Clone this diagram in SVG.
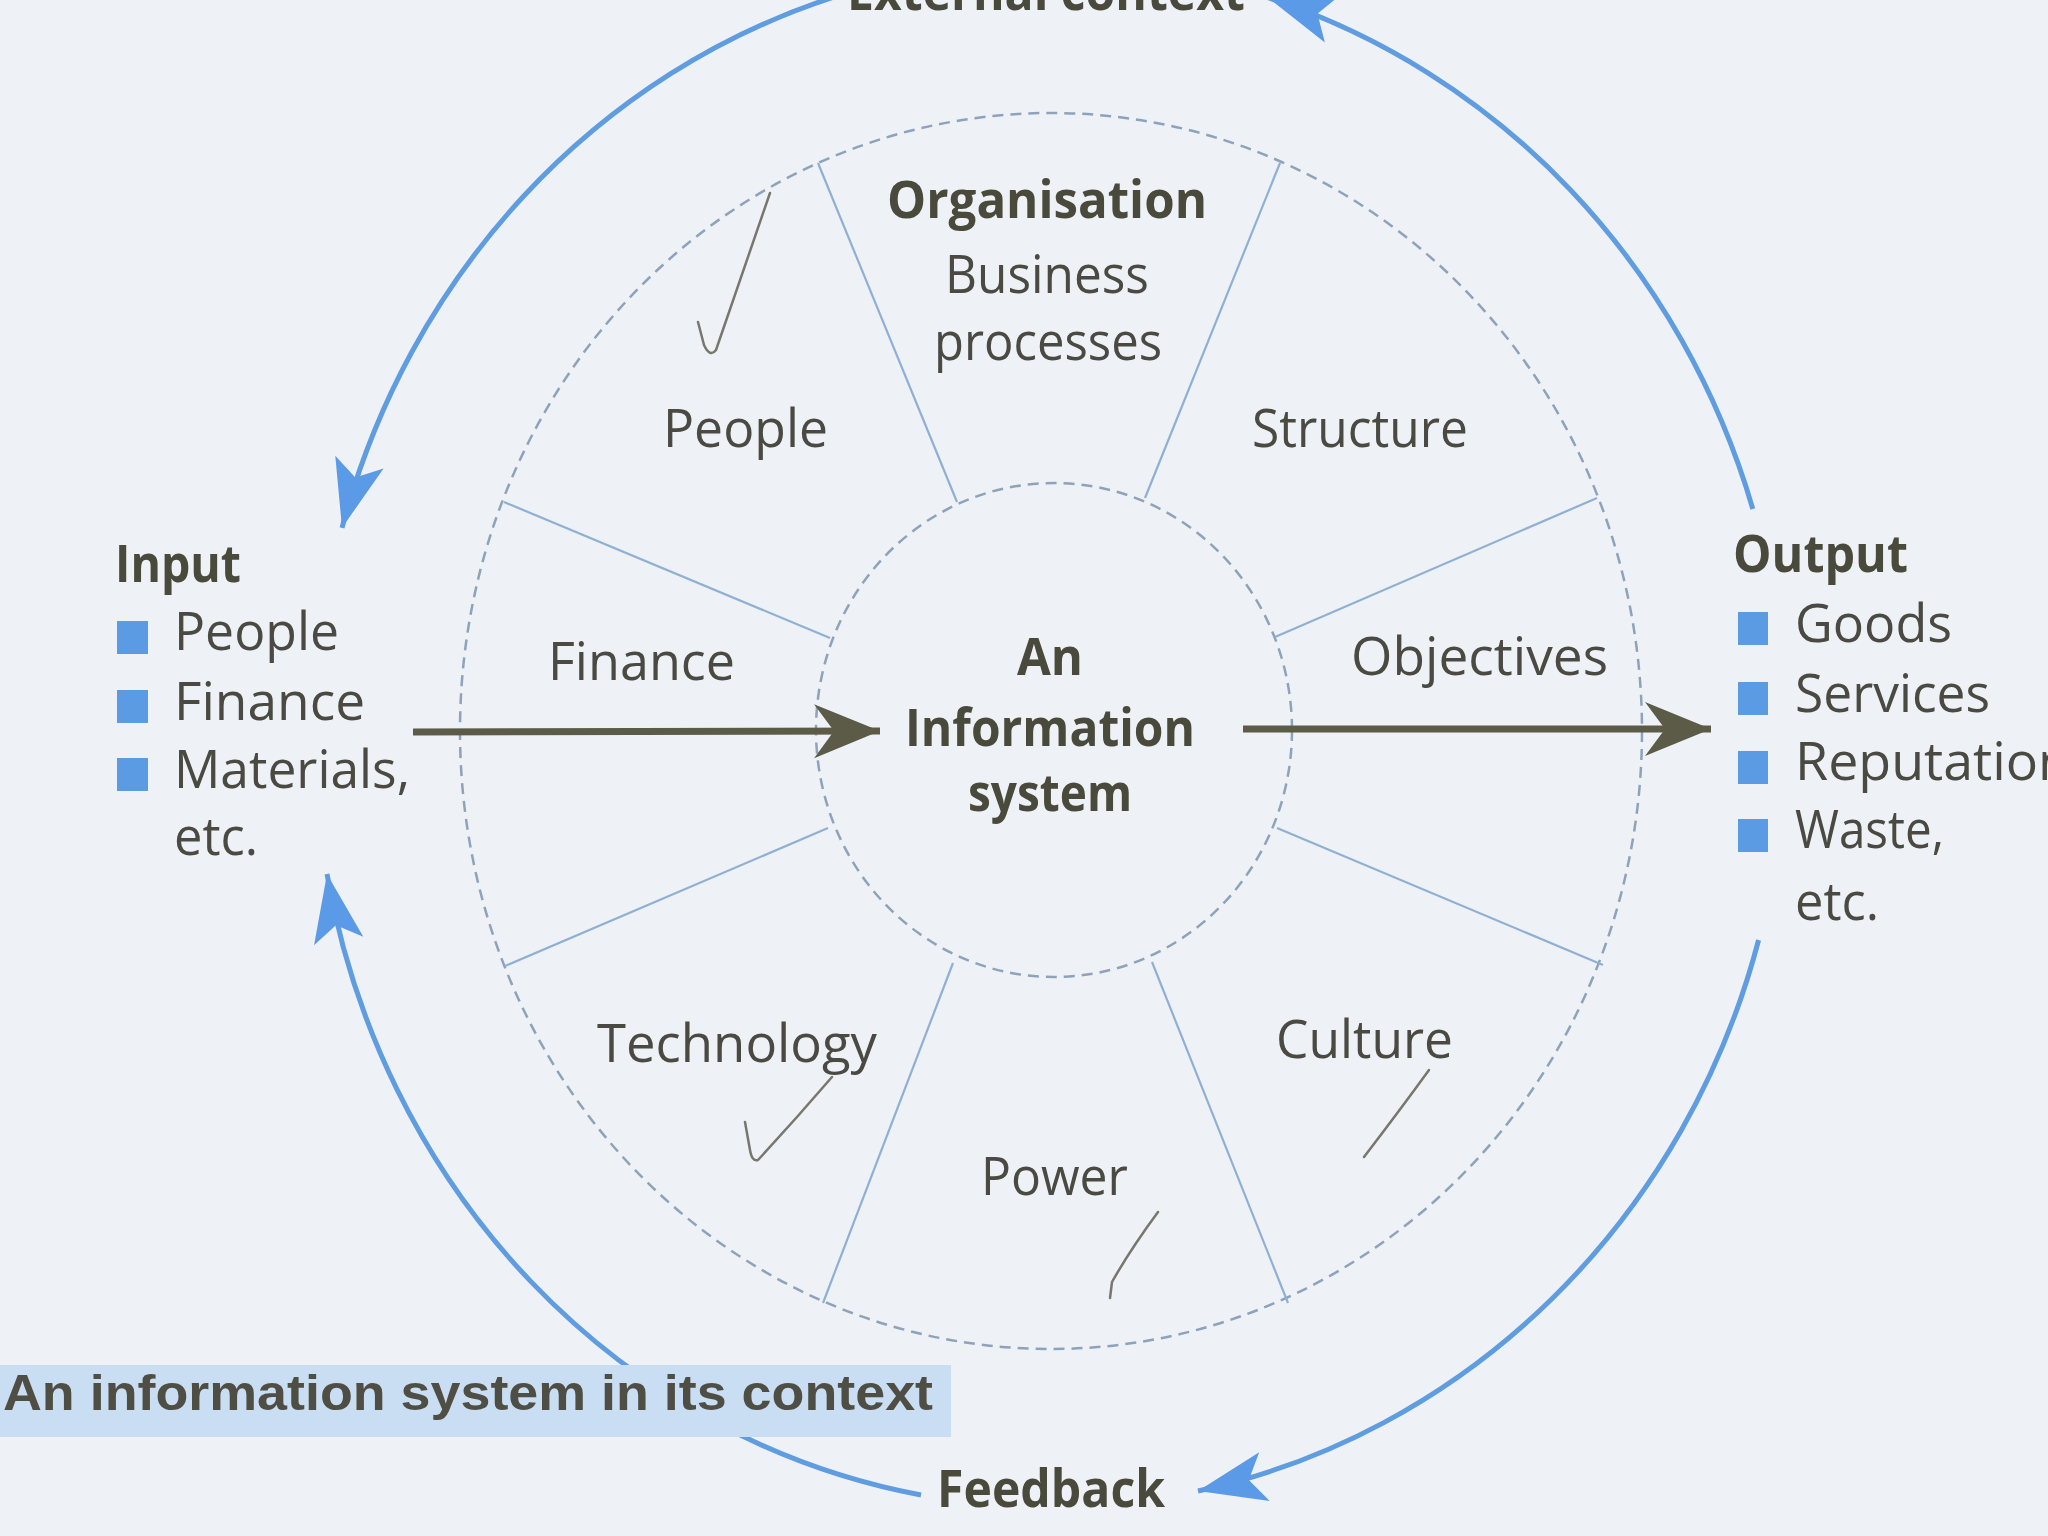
<svg xmlns="http://www.w3.org/2000/svg" width="2048" height="1536" viewBox="0 0 2048 1536">
  <style>
    .reg { font-family: "Open Sans", "Liberation Sans", sans-serif; font-size: 53px; fill: #4a4a42; }
    .bold { font-family: "Open Sans", "Liberation Sans", sans-serif; font-weight: bold; font-size: 52px; fill: #4a4a3c; }
    .cap { font-family: "Liberation Sans", Arial, sans-serif; font-weight: bold; font-size: 50px; fill: #4e4e44; }
    .dash { fill: none; stroke: #8ea2ba; stroke-width: 2.5; stroke-dasharray: 11 7; }
    .spoke { stroke: #8fb0d2; stroke-width: 2.2; fill: none; }
    .loop { fill: none; stroke: #5f9ce0; stroke-width: 5; }
    .flow { stroke: #5c5b47; stroke-width: 7; fill: none; }
    .bullet { fill: #5b9be3; }
    .tick { fill: none; stroke: #77776e; stroke-width: 2.5; stroke-linecap: round; stroke-linejoin: round; }
  </style>
  <defs>
    <marker id="blueHead" viewBox="0 0 70 56" refX="68" refY="28" markerWidth="70" markerHeight="56" markerUnits="userSpaceOnUse" orient="auto">
      <path d="M68,28 L0,3 L16,28 L0,53 Z" fill="#5a9ae6"/>
    </marker>
    <marker id="oliveHead" viewBox="0 0 68 56" refX="66" refY="28" markerWidth="68" markerHeight="56" markerUnits="userSpaceOnUse" orient="auto">
      <path d="M66,28 L0,1 L20,28 L0,55 Z" fill="#5c5b47"/>
    </marker>
  </defs>

  <rect x="0" y="0" width="2048" height="1536" fill="#eef2f7"/>

  <!-- dashed rings and spokes -->
  <g id="rings">
    <ellipse class="dash" cx="1051" cy="731" rx="591" ry="618"/>
    <ellipse class="dash" cx="1054" cy="730" rx="238" ry="247"/>
  </g>
  <g id="spokes">
    <line class="spoke" x1="818" y1="163" x2="957" y2="502"/>
    <line class="spoke" x1="1280" y1="163" x2="1145" y2="498"/>
    <line class="spoke" x1="504" y1="502" x2="830" y2="638"/>
    <line class="spoke" x1="505" y1="966" x2="828" y2="828"/>
    <line class="spoke" x1="1597" y1="498" x2="1275" y2="637"/>
    <line class="spoke" x1="1603" y1="965" x2="1277" y2="828"/>
    <line class="spoke" x1="953" y1="963" x2="823" y2="1303"/>
    <line class="spoke" x1="1152" y1="962" x2="1288" y2="1303"/>
  </g>

  <!-- connectors -->
  <g id="connectors">
    <path class="loop" d="M 835 -3.3 A 735 772 0 0 0 342 527.8" marker-end="url(#blueHead)"/>
    <path class="loop" d="M 1752.8 509 A 735 772 0 0 0 1268 -2.3" marker-end="url(#blueHead)"/>
    <path class="loop" d="M 1758.6 940 A 735 772 0 0 1 1198 1491" marker-end="url(#blueHead)"/>
    <path class="loop" d="M 921 1495 A 735 772 0 0 1 327 874" marker-end="url(#blueHead)"/>
    <line class="flow" x1="413" y1="732" x2="880" y2="731" marker-end="url(#oliveHead)"/>
    <line class="flow" x1="1243" y1="729" x2="1711" y2="729" marker-end="url(#oliveHead)"/>
  </g>

  <!-- caption box (covers part of the feedback loop) -->
  <g id="caption">
    <rect x="0" y="1365" width="951" height="72" fill="#c9ddf3"/>
    <text class="cap" x="3" y="1410" textLength="930" lengthAdjust="spacingAndGlyphs">An information system in its context</text>
  </g>

  <g id="external-context">
    <text class="bold" x="847" y="10" font-size="54" textLength="398" lengthAdjust="spacingAndGlyphs">External context</text>
  </g>
  <g id="feedback">
    <text class="bold" x="937" y="1507" font-size="54" textLength="228" lengthAdjust="spacingAndGlyphs">Feedback</text>
  </g>

  <g id="organisation">
    <text class="bold" x="887" y="218" textLength="320" lengthAdjust="spacingAndGlyphs">Organisation</text>
    <text class="reg" x="945" y="293" textLength="204" lengthAdjust="spacingAndGlyphs">Business</text>
    <text class="reg" x="934" y="360" textLength="228" lengthAdjust="spacingAndGlyphs">processes</text>
  </g>
  <g id="people">
    <text class="reg" x="663" y="447" textLength="165" lengthAdjust="spacingAndGlyphs">People</text>
  </g>
  <g id="structure">
    <text class="reg" x="1252" y="447" textLength="216" lengthAdjust="spacingAndGlyphs">Structure</text>
  </g>
  <g id="finance">
    <text class="reg" x="548" y="680" textLength="187" lengthAdjust="spacingAndGlyphs">Finance</text>
  </g>
  <g id="objectives">
    <text class="reg" x="1351" y="675" textLength="257" lengthAdjust="spacingAndGlyphs">Objectives</text>
  </g>
  <g id="information-system">
    <text class="bold" x="1017" y="675" textLength="66" lengthAdjust="spacingAndGlyphs">An</text>
    <text class="bold" x="905" y="746" textLength="290" lengthAdjust="spacingAndGlyphs">Information</text>
    <text class="bold" x="968" y="811" textLength="164" lengthAdjust="spacingAndGlyphs">system</text>
  </g>
  <g id="technology">
    <text class="reg" x="597" y="1062" textLength="280" lengthAdjust="spacingAndGlyphs">Technology</text>
  </g>
  <g id="culture">
    <text class="reg" x="1276" y="1058" textLength="177" lengthAdjust="spacingAndGlyphs">Culture</text>
  </g>
  <g id="power">
    <text class="reg" x="981" y="1195" textLength="147" lengthAdjust="spacingAndGlyphs">Power</text>
  </g>

  <g id="input">
    <text class="bold" x="115" y="582" font-size="50" textLength="126" lengthAdjust="spacingAndGlyphs">Input</text>
    <rect class="bullet" x="117" y="621" width="31" height="33"/>
    <rect class="bullet" x="117" y="690" width="31" height="33"/>
    <rect class="bullet" x="117" y="758" width="31" height="33"/>
    <text class="reg" x="174" y="650" textLength="165" lengthAdjust="spacingAndGlyphs">People</text>
    <text class="reg" x="174" y="720" textLength="191" lengthAdjust="spacingAndGlyphs">Finance</text>
    <text class="reg" x="174" y="788" textLength="236" lengthAdjust="spacingAndGlyphs">Materials,</text>
    <text class="reg" x="174" y="855" textLength="84" lengthAdjust="spacingAndGlyphs">etc.</text>
  </g>

  <g id="output">
    <text class="bold" x="1733" y="572" font-size="50" textLength="175" lengthAdjust="spacingAndGlyphs">Output</text>
    <rect class="bullet" x="1738" y="612" width="30" height="33"/>
    <rect class="bullet" x="1738" y="682" width="30" height="33"/>
    <rect class="bullet" x="1738" y="751" width="30" height="33"/>
    <rect class="bullet" x="1738" y="819" width="30" height="33"/>
    <text class="reg" x="1795" y="642" textLength="157" lengthAdjust="spacingAndGlyphs">Goods</text>
    <text class="reg" x="1795" y="712" textLength="195" lengthAdjust="spacingAndGlyphs">Services</text>
    <text class="reg" x="1795" y="780" textLength="276" lengthAdjust="spacingAndGlyphs">Reputation</text>
    <text class="reg" x="1795" y="848" textLength="149" lengthAdjust="spacingAndGlyphs">Waste,</text>
    <text class="reg" x="1795" y="920" textLength="84" lengthAdjust="spacingAndGlyphs">etc.</text>
  </g>

  <!-- handwritten ticks -->
  <g id="ticks">
    <path class="tick" d="M770,193 Q740,280 716,350 Q710,358 704,345 L698,322"/>
    <path class="tick" d="M832,1077 Q795,1120 758,1160 Q752,1162 750,1150 L745,1122"/>
    <path class="tick" d="M1429,1070 Q1400,1110 1364,1157"/>
    <path class="tick" d="M1158,1212 Q1130,1250 1112,1282 L1110,1298"/>
  </g>
</svg>
